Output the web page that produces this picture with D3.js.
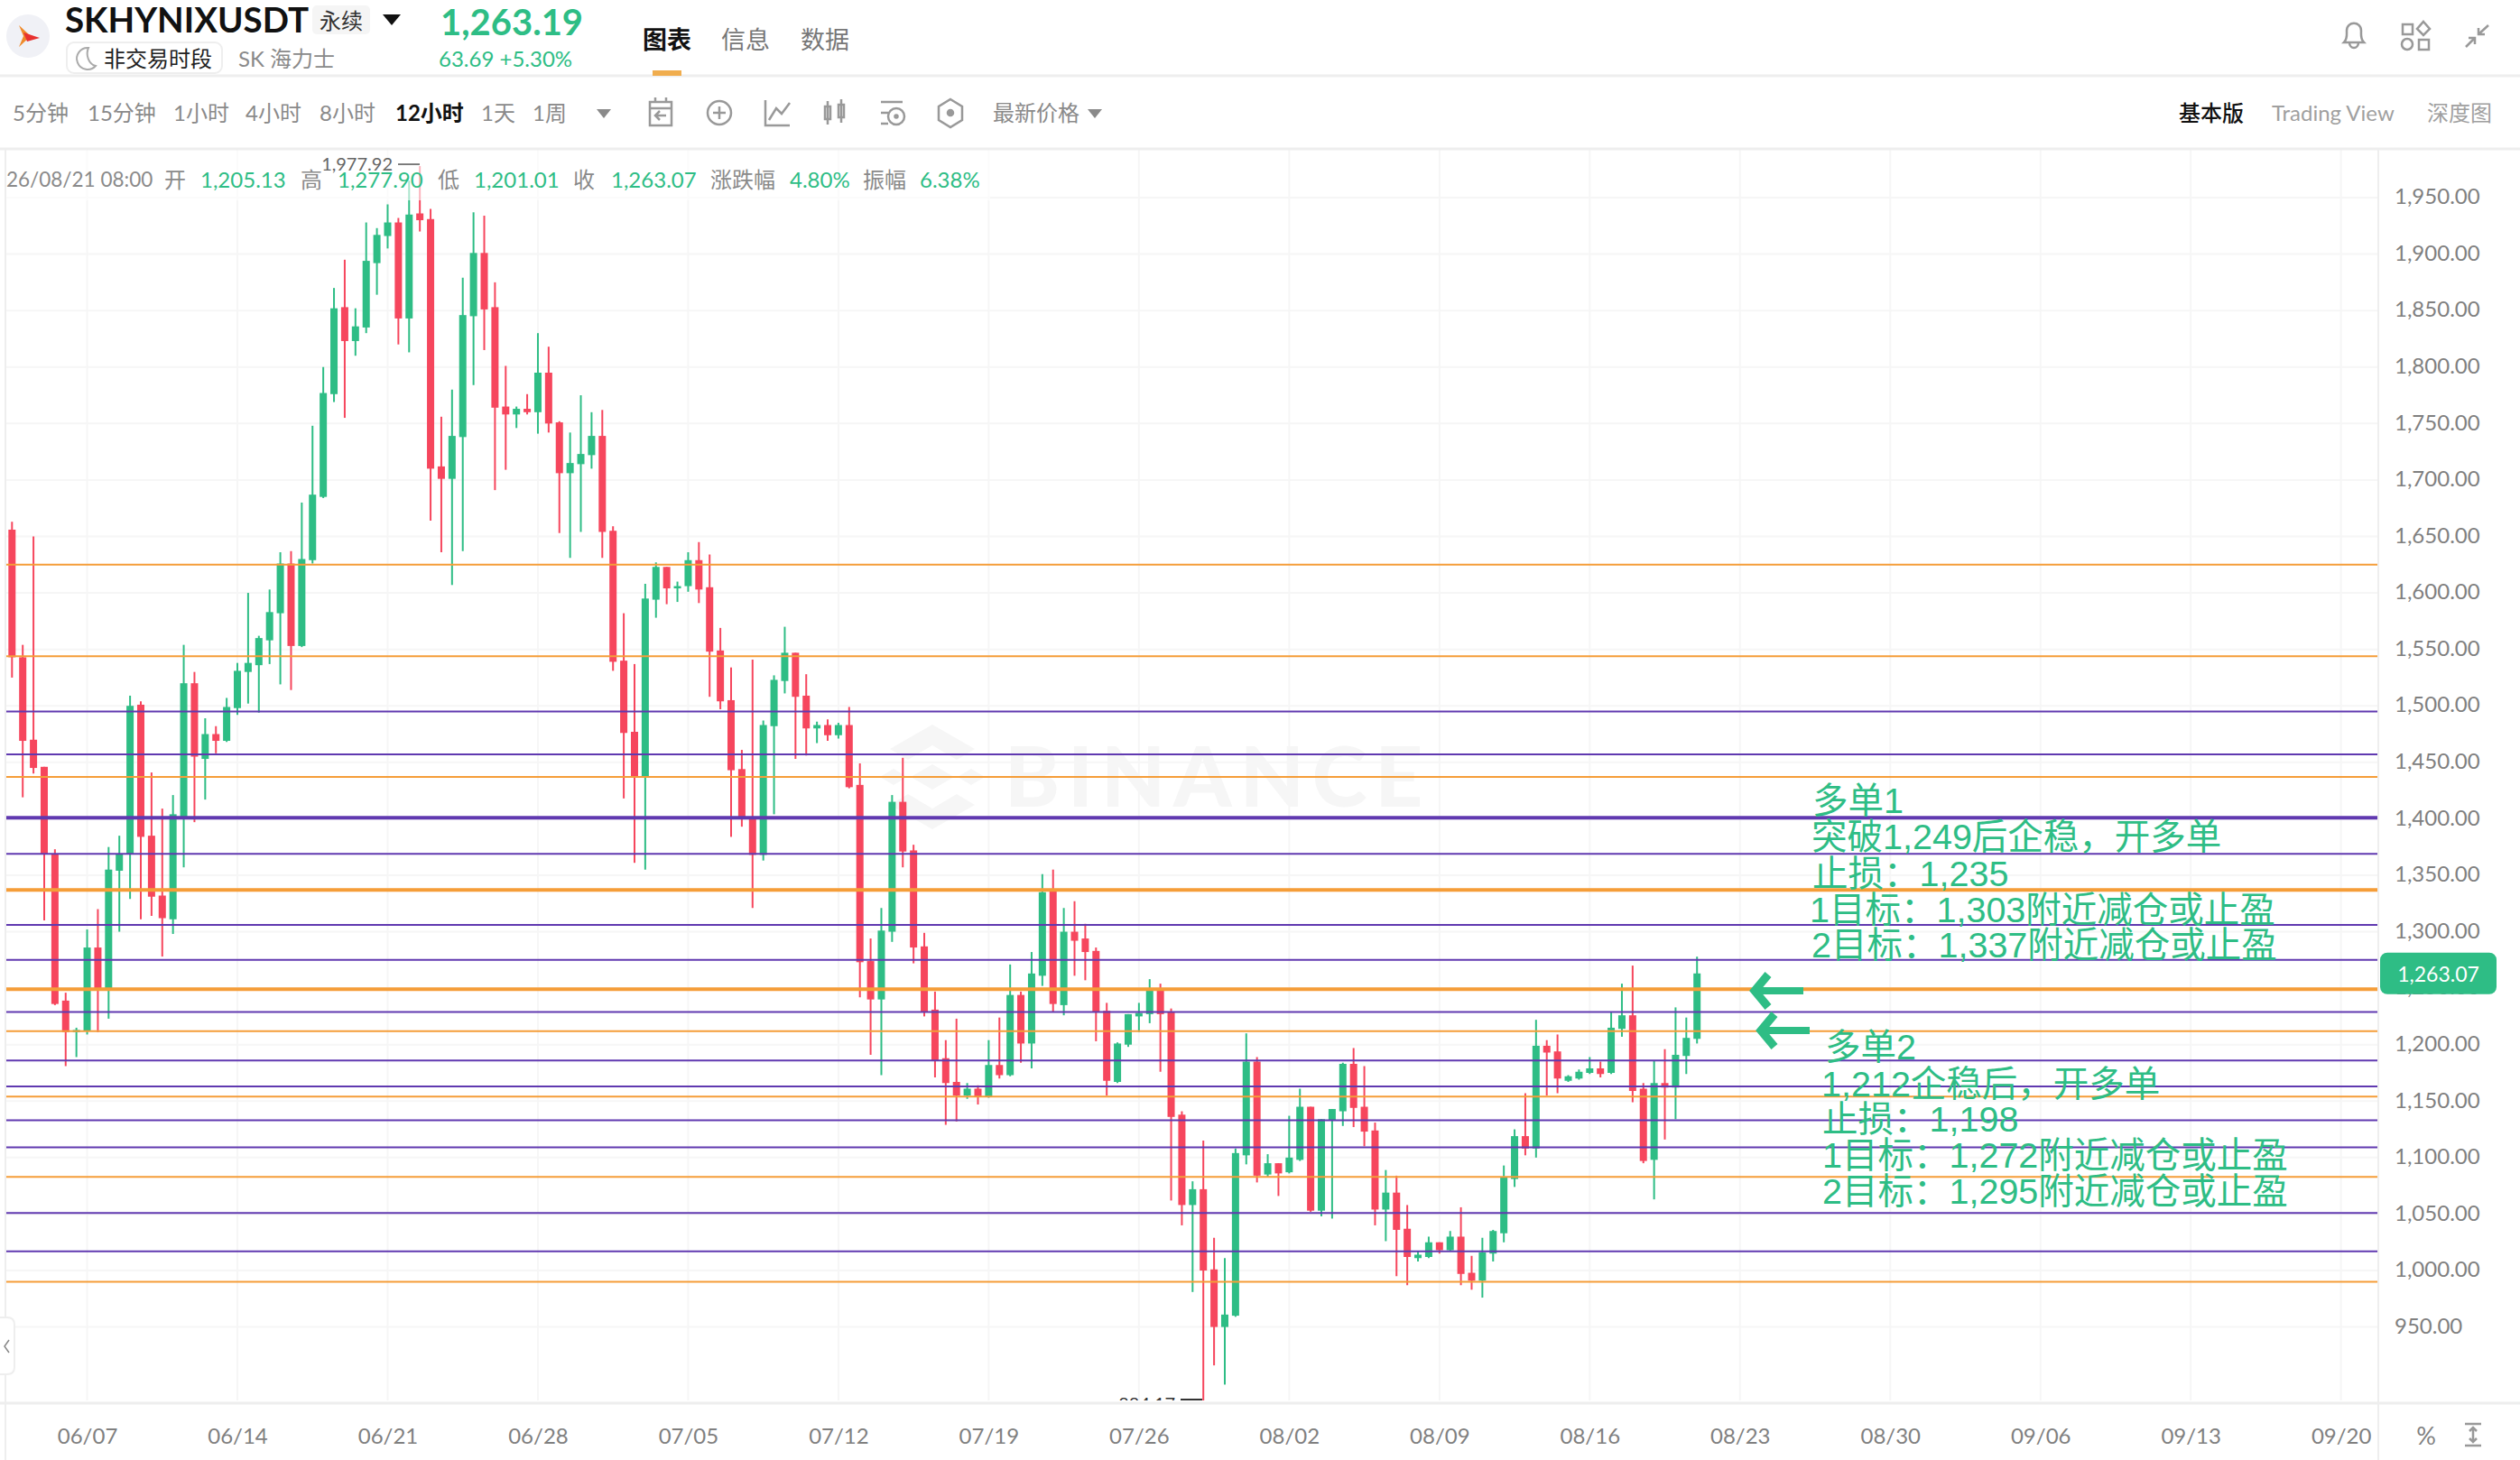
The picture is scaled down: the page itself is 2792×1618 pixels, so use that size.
<!DOCTYPE html>
<html>
<head>
  <meta charset="utf-8">
  <title>SKHYNIXUSDT</title>
  <style>
    html, body { margin: 0; padding: 0; background: #fff; }
    svg { display: block; }
    text { font-family: Lato, "Noto Sans CJK SC", sans-serif; }
    .note { font-family: "Liberation Sans", "Noto Sans CJK SC", sans-serif; }
  </style>
</head>
<body>
<script src="https://cdn.jsdelivr.net/npm/d3@7/dist/d3.min.js"></script>
<script>
// candle values, 12h candles
var opens = [1656,1543,1470,1446,1369,1239,1211,1212,1286,1248,
  1354,1369,1501,1385,1332,1311,1401,1520,1453,1475,
  1469,1498,1530,1536,1558,1582,1626,1553,1629,1685,
  1776,1853,1823,1835,1892,1916,1928,1843,1936,1931,
  1712,1701,1738,1845,1901,1853,1765,1758,1763,1760,
  1795,1751,1706,1714,1722,1739,1655,1540,1477,1437,
  1594,1623,1604,1606,1629,1605,1549,1505,1444,1400,
  1368,1482,1522,1547,1509,1480,1483,1474,1483,1430,
  1274,1240,1300,1415,1372,1287,1231,1188,1167,1155,
  1161,1154,1182,1173,1244,1201,1261,1336,1235,1300,
  1294,1283,1230,1167,1200,1225,1227,1250,1229,1138,
  1058,1072,1001,950,960,1102,1185,1085,1095,1087,
  1098,1145,1053,1133,1141,1183,1145,1124,1054,1069,
  1037,1011,1012,1025,1018,1030,998,991,1015,1033,
  1081,1119,1108,1199,1194,1168,1170,1175,1179,1175,
  1214,1226,1161,1098,1166,1162,1190,1205.13];
var highs = [1663,1554,1650,1446,1373,1246,1215,1302,1320,1375,
  1385,1509,1504,1441,1409,1421,1554,1530,1489,1482,
  1507,1538,1600,1562,1603,1636,1637,1680,1748,1800,
  1870,1895,1852,1928,1923,1944,1932,1965,1977.92,1940,
  1756,1780,1879,1937,1934,1875,1801,1765,1776,1830,
  1818,1752,1742,1775,1760,1762,1659,1582,1537,1608,
  1627,1623,1610,1636,1645,1634,1569,1534,1461,1541,
  1487,1527,1570,1547,1528,1486,1488,1485,1499,1449,
  1294,1321,1421,1454,1377,1299,1247,1204,1223,1166,
  1164,1204,1224,1271,1247,1282,1351,1355,1321,1327,
  1307,1286,1237,1202,1227,1237,1258,1254,1232,1141,
  1079,1115,1029,1011,1108,1210,1189,1103,1095,1137,
  1161,1145,1134,1143,1184,1197,1181,1131,1089,1084,
  1058,1017,1030,1025,1035,1056,1013,1029,1036,1093,
  1125,1157,1222,1204,1209,1173,1178,1189,1185,1229,
  1254,1270,1166,1186,1196,1233,1224,1277.90];
var lows = [1525,1419,1440,1310,1235,1181,1189,1209,1211,1223,
  1300,1329,1311,1314,1278,1298,1357,1397,1417,1458,
  1468,1492,1502,1494,1537,1519,1514,1552,1626,1684,
  1769,1755,1810,1830,1864,1905,1820,1813,1920,1664,
  1636,1607,1637,1784,1815,1691,1709,1746,1758,1741,
  1742,1653,1631,1654,1710,1631,1531,1418,1361,1355,
  1578,1590,1592,1601,1591,1508,1497,1384,1393,1321,
  1363,1404,1511,1453,1456,1467,1469,1471,1427,1242,
  1191,1173,1291,1357,1272,1225,1171,1129,1132,1152,
  1147,1153,1170,1172,1184,1179,1252,1229,1226,1261,
  1257,1203,1155,1166,1198,1211,1219,1176,1062,1040,
  981,884.17,916,899,959,1094,1078,1083,1066,1086,
  1097,1052,1048,1046,1128,1127,1110,1040,1026,995,
  987,1008,1011,1015,1017,987,983,976,1008,1025,
  1074,1102,1100,1155,1157,1167,1169,1174,1171,1174,
  1207,1149,1095,1063,1116,1134,1174,1201.01];
var closes = [1543,1469,1445,1369,1236,1211,1213,1286,1248,1355,
  1369,1500,1384,1331,1312,1404,1520,1455,1475,1469,
  1499,1531,1538,1560,1583,1626,1553,1630,1687,1777,
  1852,1823,1836,1894,1917,1928,1843,1935,1930,1710,
  1701,1739,1846,1901,1851,1764,1758,1763,1760,1795,
  1750,1706,1715,1723,1739,1654,1539,1476,1437,1595,
  1623,1604,1606,1629,1603,1548,1504,1443,1401,1368,
  1483,1523,1547,1508,1480,1483,1474,1483,1428,1273,
  1240,1301,1415,1371,1286,1229,1186,1166,1155,1161,
  1154,1182,1173,1244,1201,1263,1335,1236,1300,1292,
  1282,1229,1168,1201,1227,1228,1250,1227,1136,1058,
  1072,1000,950,961,1104,1185,1084,1095,1086,1100,
  1145,1053,1134,1143,1183,1144,1123,1054,1069,1036,
  1012,1014,1025,1018,1030,997,991,1016,1035,1083,
  1119,1108,1199,1193,1170,1172,1176,1179,1174,1215,
  1226,1159,1097,1166,1162,1191,1206,1263.07];

var priceTicks = [950,1000,1050,1100,1150,1200,1250,1300,1350,1400,1450,1500,1550,1600,1650,1700,1750,1800,1850,1900,1950];
var dateLabels = ["06/07","06/14","06/21","06/28","07/05","07/12","07/19","07/26","08/02","08/09","08/16","08/23","08/30","09/06","09/13","09/20"];
var dateIndex = [7,21,35,49,63,77,91,105,119,133,147,161,175,189,203,217];

var orangeLevels = [1625,1544,1437,1337,1249,1212,1154,1083,990];
var purpleLevels = [1495,1457,1401,1369,1306,1275,1229,1186,1163,1133,1109,1051,1017];
var thickLevels = [1401,1337,1249];

// fullwidth comma and colon as in the picture
var note1 = ["多单1","突破1,249后企稳\uFF0C开多单","止损\uFF1A1,235","1目标\uFF1A1,303附近减仓或止盈","2目标\uFF1A1,337附近减仓或止盈"];
var note2 = ["多单2","1,212企稳后\uFF0C开多单","止损\uFF1A1,198","1目标\uFF1A1,272附近减仓或止盈","2目标\uFF1A1,295附近减仓或止盈"];

var tabs = ["5分钟","15分钟","1小时","4小时","8小时","12小时","1天","1周"];
var tabX = [14,97,192,272,354,438,533,590];
var infoText = [["开",182,0],["1,205.13",222,1],["高",333,0],["1,277.90",374,1],["低",485,0],["1,201.01",525,1],
  ["收",635,0],["1,263.07",677,1],["涨跌幅",787,0],["4.80%",875,1],["振幅",956,0],["6.38%",1019,1]];

var green = "#2ebd85", red = "#f6465d", grey = "#8a8a8a", line = "#eeeeee", grid = "#f6f6f6";
var W = 2792, H = 1618;
var left = 7, right = 2635, top_ = 165, bottom = 1552;

var svg = d3.select("body").append("svg").attr("width", W).attr("height", H);

var x = d3.scaleLinear().domain([0, 157]).range([13.3, 1880.2]);
var y = d3.scaleLinear().domain([1950, 950]).range([219, 1470.6]);

function label(px, py, txt, size, color, weight, anchor) {
  return svg.append("text").attr("x", px).attr("y", py)
    .attr("dominant-baseline", "central")
    .attr("text-anchor", anchor || "start")
    .attr("font-size", size).attr("font-weight", weight || 400)
    .attr("fill", color).text(txt);
}

svg.append("defs").append("clipPath").attr("id", "plot").append("rect")
  .attr("x", left).attr("y", top_).attr("width", right - left).attr("height", bottom - top_);

// grid
svg.append("g").selectAll("line").data(priceTicks).enter().append("line")
  .attr("x1", left).attr("x2", right)
  .attr("y1", function(d) { return y(d); }).attr("y2", function(d) { return y(d); })
  .attr("stroke", grid).attr("stroke-width", 2);
svg.append("g").selectAll("line").data(dateIndex).enter().append("line")
  .attr("x1", function(d) { return x(d); }).attr("x2", function(d) { return x(d); })
  .attr("y1", top_).attr("y2", bottom)
  .attr("stroke", grid).attr("stroke-width", 2);

// watermark
var wm = svg.append("g").attr("fill", "#f6f6f6");
wm.append("text").attr("x", 1113).attr("y", 894).attr("font-size", 92).attr("font-weight", 900)
  .attr("letter-spacing", 9).attr("font-family", "Lato").text("BINANCE");
wm.append("path").attr("d", "M1033,803L1080,830L1060,842L1033,826L1006,842L986,830Z");
wm.append("path").attr("d", "M1033,919L1080,892L1060,880L1033,896L1006,880L986,892Z");
wm.append("path").attr("d", "M1009,861L1033,847L1057,861L1033,875Z");
wm.append("path").attr("d", "M975,861L990,852L1005,861L990,870Z");
wm.append("path").attr("d", "M1061,861L1076,852L1091,861L1076,870Z");

// candles
var plot = svg.append("g").attr("clip-path", "url(#plot)");
var candles = plot.selectAll(".candle").data(d3.range(opens.length)).enter().append("g").attr("class", "candle");
function col(i) { return closes[i] >= opens[i] ? green : red; }
candles.append("line")
  .attr("x1", function(i) { return x(i); }).attr("x2", function(i) { return x(i); })
  .attr("y1", function(i) { return y(highs[i]); }).attr("y2", function(i) { return y(lows[i]); })
  .attr("stroke", col).attr("stroke-width", 2);
candles.append("rect")
  .attr("x", function(i) { return x(i) - 4; }).attr("width", 8)
  .attr("y", function(i) { return y(Math.max(opens[i], closes[i])); })
  .attr("height", function(i) { return Math.max(2, Math.abs(y(opens[i]) - y(closes[i]))); })
  .attr("fill", col);

// drawn levels
function levels(data, color) {
  svg.append("g").selectAll("line").data(data).enter().append("line")
    .attr("x1", left).attr("x2", right - 1)
    .attr("y1", function(d) { return y(d); }).attr("y2", function(d) { return y(d); })
    .attr("stroke", color)
    .attr("stroke-width", function(d) { return thickLevels.indexOf(d) >= 0 ? 4 : 2; });
}
levels(orangeLevels, "#f59d38");
levels(purpleLevels, "#6039b0");

// arrows
function arrow(tipX, endX, cy) {
  var a = svg.append("g").attr("stroke", green).attr("stroke-width", 8).attr("fill", "none");
  a.append("path").attr("d", "M" + endX + "," + cy + "L" + (tipX + 3) + "," + cy);
  a.append("path").attr("stroke-width", 9).attr("d", "M" + (tipX + 19) + "," + (cy - 18) + "L" + (tipX + 4) + "," + cy + "L" + (tipX + 19) + "," + (cy + 18));
}
arrow(1940, 1998, 1098);
arrow(1947, 2005, 1142);

// notes
function note(lines, xs, ys) {
  lines.forEach(function(t, i) {
    svg.append("text").attr("class", "note").attr("x", xs[i]).attr("y", ys[i])
      .attr("dominant-baseline", "central").attr("font-size", 39.5).attr("fill", green).text(t);
  });
}
note(note1, [2008,2007,2008,2005,2007], [887,927,968,1008,1047]);
note(note2, [2022,2018,2019,2019,2019], [1160,1201,1240,1280,1320]);

// info row
svg.append("rect").attr("x", left).attr("y", top_).attr("width", 1090).attr("height", 57).attr("fill", "#fff").attr("opacity", 0.6);
label(7, 198, "26/08/21 08:00", 22.5, grey);
infoText.forEach(function(d) { label(d[1], 198, d[0], 24, d[2] ? green : grey); });

// extremes
svg.append("line").attr("x1", 441).attr("x2", 465).attr("y1", y(1977.92) - 2).attr("y2", y(1977.92) - 2).attr("stroke", "#555").attr("stroke-width", 1.5);
label(435, y(1977.92) - 3, d3.format(",.2f")(1977.92), 20, "#666", 400, "end");
var lowG = svg.append("g").attr("clip-path", "url(#plot)");
lowG.append("line").attr("x1", 1308).attr("x2", 1332).attr("y1", y(884.17) - 2).attr("y2", y(884.17) - 2).attr("stroke", "#333").attr("stroke-width", 2);
lowG.append("text").attr("x", 1302).attr("y", y(884.17) + 2).attr("text-anchor", "end").attr("dominant-baseline", "central")
  .attr("font-size", 20).attr("fill", "#333").text(d3.format(",.2f")(884.17));

// axes
var yAxis = svg.append("g").attr("transform", "translate(2653,0)")
  .call(d3.axisRight(y).tickValues(priceTicks).tickFormat(d3.format(",.2f")).tickSize(0).tickPadding(0));
yAxis.select(".domain").remove();
yAxis.selectAll("text").attr("font-size", 24).attr("fill", "#808080").attr("font-family", "Lato").attr("dy", "0.28em");

var xAxis = svg.append("g").attr("transform", "translate(0,1592)")
  .call(d3.axisBottom(x).tickValues(dateIndex).tickFormat(function(d, i) { return dateLabels[i]; }).tickSize(0).tickPadding(0));
xAxis.select(".domain").remove();
xAxis.selectAll("text").attr("font-size", 24).attr("fill", "#808080").attr("font-family", "Lato")
  .attr("y", 0).attr("dy", "0.34em");

// frame lines
function frame(x1, y1, x2, y2, w) {
  svg.append("line").attr("x1", x1).attr("y1", y1).attr("x2", x2).attr("y2", y2).attr("stroke", line).attr("stroke-width", w || 2);
}
frame(0, 84, W, 84, 3);
frame(0, 165, W, 165, 3);
frame(0, 1555, W, 1555, 3);
frame(right, 165, right, H, 2);
frame(6, 165, 6, H, 2);

// price tag
svg.append("rect").attr("x", 2637).attr("y", y(closes[157]) - 23).attr("width", 129).attr("height", 46).attr("rx", 8).attr("fill", green);
label(2701.5, y(closes[157]), d3.format(",.2f")(closes[157]), 23, "#fff", 400, "middle");

// header
svg.append("circle").attr("cx", 31).attr("cy", 40).attr("r", 24).attr("fill", "#f0f1f6");
svg.append("path").attr("d", "M21,28L34,40L21,52L26,40Z").attr("fill", "#ef8a2a");
svg.append("path").attr("d", "M26,36L44,42L30,46Z").attr("fill", "#e8312f");
label(72, 21, "SKHYNIXUSDT", 38.5, "#111", 700);
svg.append("rect").attr("x", 346).attr("y", 6).attr("width", 64).attr("height", 32).attr("rx", 5).attr("fill", "#f5f5f5");
label(378, 22, "永续", 24, "#333", 400, "middle");
svg.append("path").attr("d", "M424,16L444,16L434,28Z").attr("fill", "#111");
label(488, 24, "1,263.19", 40, green, 700);
label(486, 64, "63.69 +5.30%", 24, green);
svg.append("rect").attr("x", 74).attr("y", 47).attr("width", 172).attr("height", 34).attr("rx", 8).attr("fill", "none").attr("stroke", line).attr("stroke-width", 2);
svg.append("path").attr("d", "M98,53A12,12 0 1,0 106,73A12,14 0 0,1 98,53Z").attr("fill", "none").attr("stroke", "#aaa").attr("stroke-width", 2);
label(115, 64, "非交易时段", 24, "#222");
label(264, 64, "SK 海力士", 24, grey);
svg.append("rect").attr("x", 723).attr("y", 78).attr("width", 32).attr("height", 6).attr("fill", "#f0ad4e");
label(712, 43, "图表", 27, "#111", 700);
label(799, 43, "信息", 27, "#777");
label(887, 43, "数据", 27, "#777");

// toolbar
tabs.forEach(function(t, i) { label(tabX[i], 124, t, 24, i === 5 ? "#111" : grey, i === 5 ? 700 : 400); });
svg.append("path").attr("d", "M661,121L677,121L669,131Z").attr("fill", "#8a8a8a");
label(1100, 124, "最新价格", 24, grey);
svg.append("path").attr("d", "M1205,121L1221,121L1213,131Z").attr("fill", "#8a8a8a");
label(2414, 124, "基本版", 24, "#111", 500);
label(2517, 124, "Trading View", 24, "#a0a0a0");
label(2689, 124, "深度图", 24, "#a0a0a0");

var icons = svg.append("g").attr("fill", "none").attr("stroke", "#999").attr("stroke-width", 2.5);
// calendar
icons.append("path").attr("d", "M720,113H744V139H720ZM720,120H744M726,108V113M738,108V113M738,128H726M731,123L726,128L731,133");
// plus circle
icons.append("circle").attr("cx", 797).attr("cy", 125).attr("r", 13);
icons.append("path").attr("d", "M790,125H804M797,118V132");
// line chart
icons.append("path").attr("d", "M848,111V139H875M852,133L860,120L866,126L875,114");
// candle
icons.append("path").attr("d", "M914,118H920V132H914ZM929,116H935V130H929ZM917,112V138M932,110V136");
// indicators
icons.append("path").attr("d", "M976,113H1000M976,125H984M976,137H984");
icons.append("circle").attr("cx", 993).attr("cy", 129).attr("r", 9);
icons.append("circle").attr("cx", 993).attr("cy", 129).attr("r", 1.5);
// hexagon
icons.append("path").attr("d", "M1053,110L1066,118V133L1053,141L1040,133V118Z");
icons.append("circle").attr("cx", 1053).attr("cy", 125).attr("r", 3).attr("fill", "#999");
// bell
icons.append("path").attr("d", "M2597,47C2601,43 2600,38 2600,34C2600,23 2616,23 2616,34C2616,38 2615,43 2619,47ZM2603,47C2603,55 2613,55 2613,47");
// apps
icons.append("path").attr("d", "M2662,27H2673V38H2662ZM2680,44H2691V55H2680ZM2685,24L2692,32L2685,39L2678,32Z");
icons.append("circle").attr("cx", 2667).attr("cy", 49).attr("r", 6);
// compress
icons.append("path").attr("d", "M2757,28L2746,38M2746,31V38H2753M2732,52L2742,42M2735,42H2742V49");
// percent and scale
label(2688, 1590, "%", 27, "#808080", 400, "middle");
icons.append("path").attr("d", "M2731,1578H2749M2731,1602H2749M2740,1582V1598M2736,1586L2740,1582L2744,1586M2736,1594L2740,1598L2744,1594");
// collapse handle
svg.append("path").attr("d", "M0,1460H8Q16,1460 16,1468V1515Q16,1523 8,1523H0").attr("fill", "#fff").attr("stroke", "#eee").attr("stroke-width", 2);
svg.append("path").attr("d", "M10,1485L5,1492L10,1499").attr("fill", "none").attr("stroke", "#888").attr("stroke-width", 1.5);
</script>
</body>
</html>
